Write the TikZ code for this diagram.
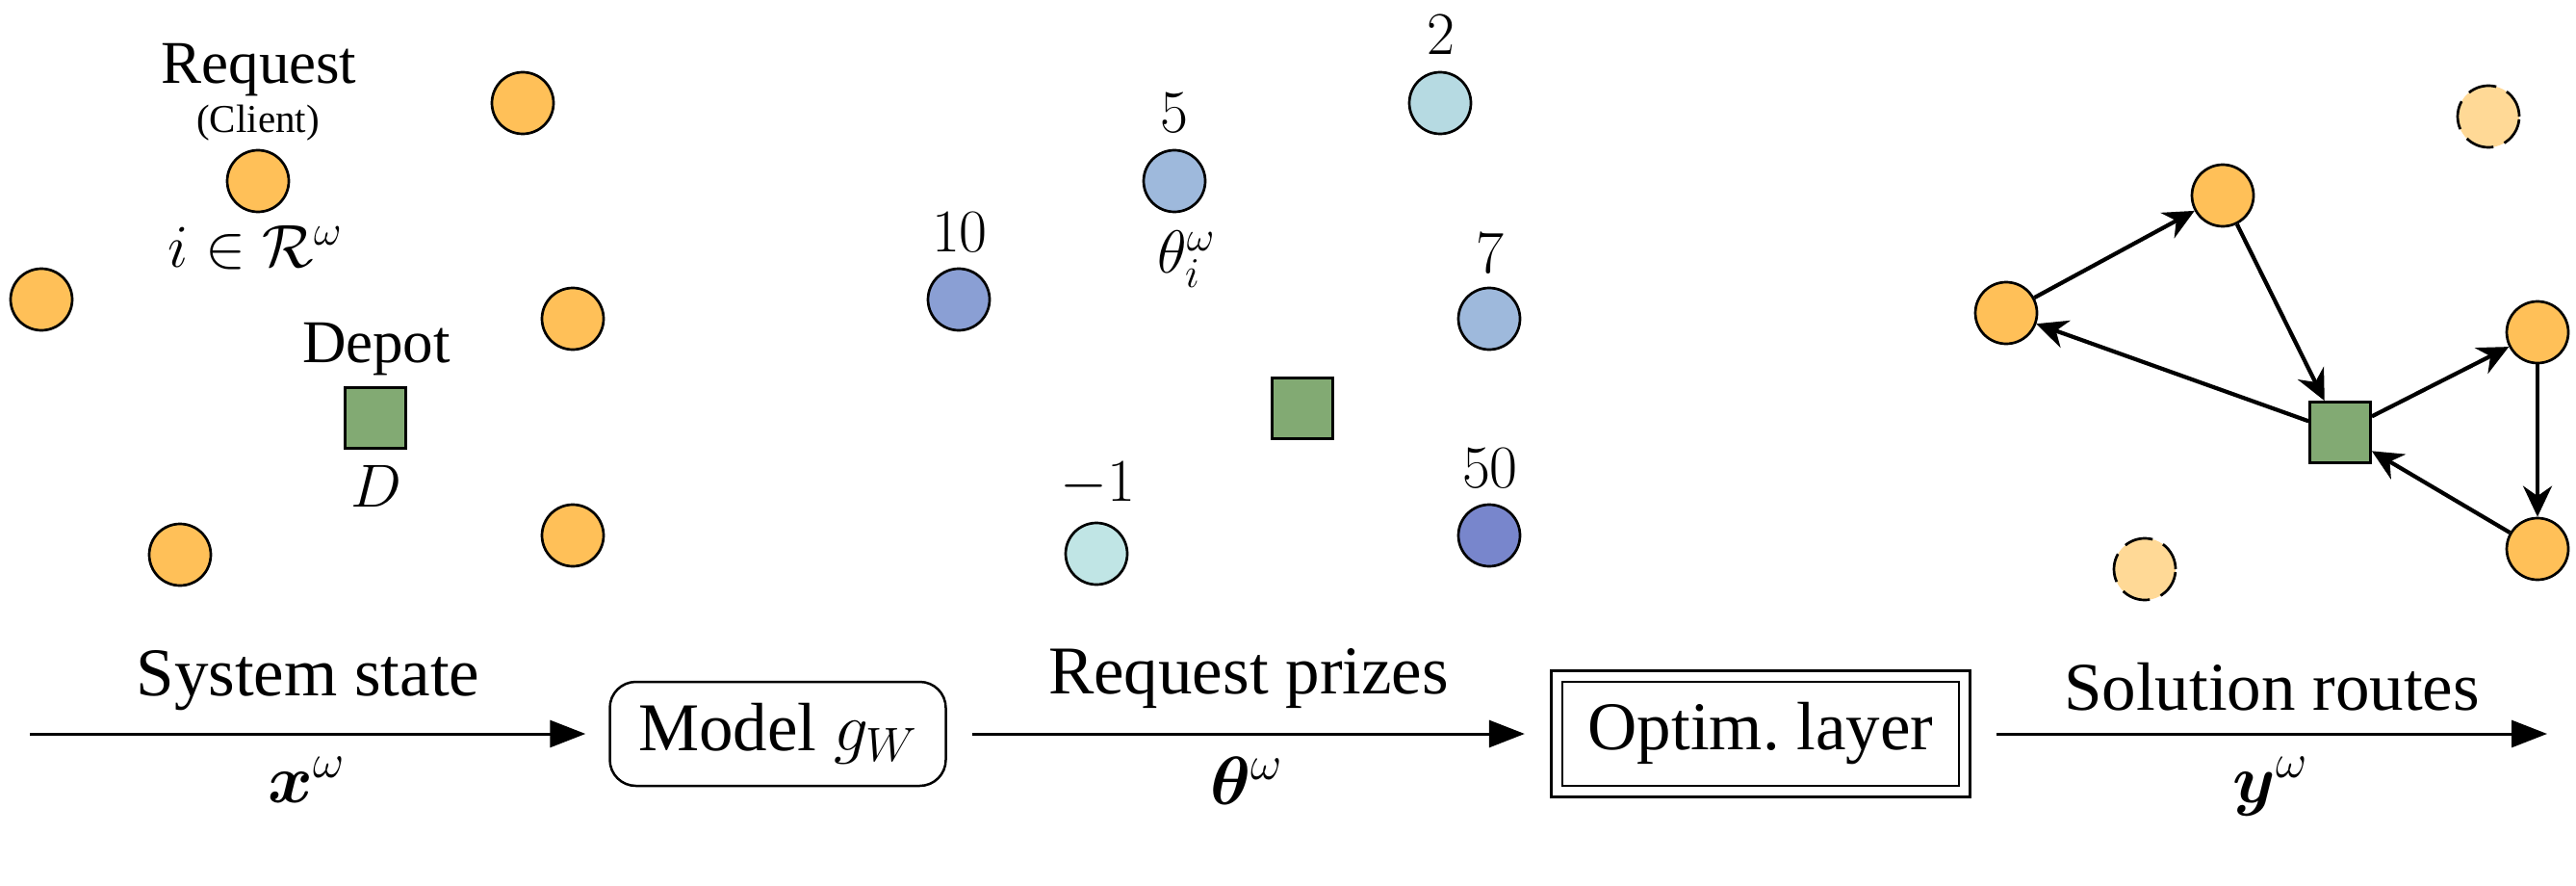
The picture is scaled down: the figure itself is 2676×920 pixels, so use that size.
\RequirePackage{fix-cm}
\documentclass[tikz,border=0pt]{standalone}
\usepackage[no-math]{fontspec}
\setmainfont{Liberation Serif}
\newfontfamily\tnr{Liberation Serif}
\usepackage{bm}
\usetikzlibrary{arrows.meta}
\newcommand\myfs[1]{\fontsize{#1}{#1}\selectfont}
\definecolor{corange}{RGB}{255,192,88}
\definecolor{clight}{RGB}{255,217,150}
\definecolor{cgreen}{RGB}{130,170,115}
\definecolor{cbluea}{RGB}{158,185,220}
\definecolor{cblueb}{RGB}{138,159,212}
\definecolor{cbluec}{RGB}{120,134,204}
\definecolor{ctealA}{RGB}{182,218,226}
\definecolor{ctealB}{RGB}{192,229,229}
\begin{document}
\begin{tikzpicture}[x=1pt,y=-1pt,
  client/.style={circle, draw, line width=2.7pt, fill=corange, minimum size=64pt, inner sep=0pt},
  prize/.style={circle, draw, line width=2.7pt, minimum size=64pt, inner sep=0pt},
  ghost/.style={circle, draw, line width=2.7pt, fill=clight, minimum size=64pt, inner sep=0pt, dash pattern=on 30pt off 12pt},
  depotbox/.style={rectangle, draw, line width=2.7pt, fill=cgreen, minimum size=63pt, inner sep=0pt},
  lbl/.style={anchor=base, inner sep=0pt, font=\tnr\myfs{63}},
  small/.style={anchor=base, inner sep=0pt, font=\tnr\myfs{41}},
  blbl/.style={anchor=base, inner sep=0pt, font=\tnr\myfs{71}},
  flow/.style={line width=3pt, -{Triangle[length=37pt,width=28pt]}},
  route/.style={line width=4.2pt, -{Stealth[length=32pt,width=30pt]}}
]
\useasboundingbox (0,0) rectangle (2676,920);

% ---------- left panel: system state ----------
\node[client] (l1) at (268,188) {};
\node[client] (l2) at (543,107) {};
\node[client] (l3) at (43,311) {};
\node[client] (l4) at (595,331) {};
\node[client] (l5) at (187,576) {};
\node[client] (l6) at (595,556) {};
\node[depotbox] (ld) at (390,434) {};
\node[lbl] (treq) at (269,87) {Request};
\node[small] (tcli) at (268,138) {(Client)};
\node[lbl] (tset) at (265,277) {$i \in \mathcal{R}^{\omega}$};
\node[lbl] (tdep) at (391,376) {Depot};
\node[lbl] (tD) at (391,526) {$D$};

% ---------- middle panel: prizes ----------
\node[prize, fill=cbluea] (m1) at (1220,188) {};
\node[prize, fill=ctealA] (m2) at (1496,107) {};
\node[prize, fill=cblueb] (m3) at (996,311) {};
\node[prize, fill=cbluea] (m4) at (1547,331) {};
\node[prize, fill=ctealB] (m5) at (1139,575) {};
\node[prize, fill=cbluec] (m6) at (1547,556) {};
\node[depotbox] (md) at (1353,424) {};
\node[lbl] (p2) at (1497,57) {$2$};
\node[lbl] (p5) at (1220,138) {$5$};
\node[lbl] (p10) at (997,261) {$10$};
\node[lbl] (pth) at (1232,283) {$\theta_i^{\omega}$};
\node[lbl] (p7) at (1548,283) {$7$};
\node[lbl] (pm1) at (1140,520) {$-1$};
\node[lbl] (p50) at (1548,506) {$50$};

% ---------- right panel: routes ----------
\node[ghost] (g1) at (2585,121) {};
\node[ghost] (g2) at (2228,591) {};
\node[client] (rA) at (2309,203) {};
\node[client] (rB) at (2084,325) {};
\node[client] (rC) at (2636,345) {};
\node[client] (rE) at (2636,570) {};
\node[depotbox] (rd) at (2431,449) {};
\draw[route] (rB) -- (rA);
\draw[route] (rA) -- (rd);
\draw[route] (rd) -- (rB);
\draw[route] (rd) -- (rC);
\draw[route] (rC) -- (rE);
\draw[route] (rE) -- (rd);

% ---------- bottom pipeline ----------
\coordinate (s0) at (31,762);
\coordinate (s1) at (2646,762);
\node[draw, rounded corners=27pt, line width=2.5pt, minimum width=349pt, minimum height=108pt, inner sep=0pt, font=\tnr\myfs{71}] (model) at (808,762) {Model $g_W$};
\node[draw, line width=3.3pt, minimum width=435pt, minimum height=131pt, inner sep=0pt] (optout) at (1829,762) {};
\node[draw, line width=2pt, minimum width=412pt, minimum height=108pt, inner sep=0pt, font=\tnr\myfs{71}] (optin) at (1829,762) {Optim.\ layer};
\draw[flow, shorten >=24pt] (s0) -- (model.west);
\draw[flow, shorten <=26pt, shorten >=26pt] (model.east) -- (optout.west);
\draw[flow, shorten <=26pt] (optout.east) -- (s1);
\node[blbl] (ls) at (320,722) {System state};
\node[blbl] (lx) at (318,833) {$\bm{x}^{\omega}$};
\node[blbl] (lp) at (1297,720) {Request prizes};
\node[blbl] (lt) at (1295,835) {$\bm{\theta}^{\omega}$};
\node[blbl] (lr) at (2360,737) {Solution routes};
\node[blbl] (ly) at (2358,833) {$\bm{y}^{\omega}$};
\end{tikzpicture}
\end{document}
